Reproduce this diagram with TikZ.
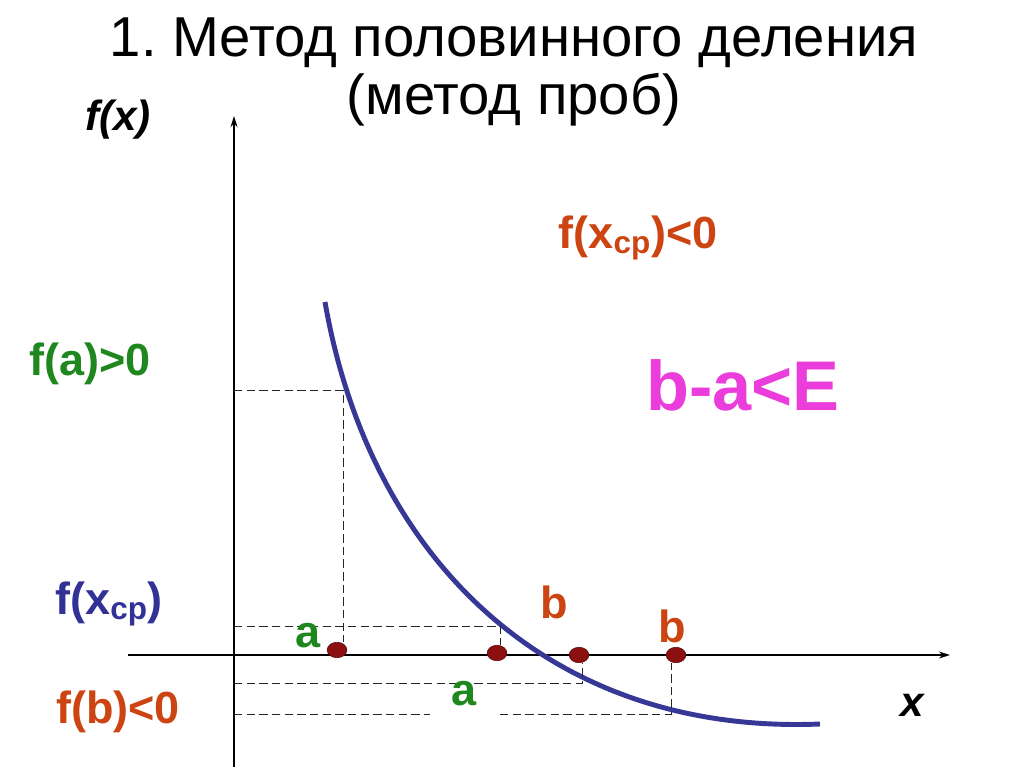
\documentclass[tikz,border=0pt]{standalone}
\usepackage{fontspec}
\setmainfont{Liberation Sans}
\usepackage{tikz}
\usetikzlibrary{arrows.meta}
\usetikzlibrary{shapes.geometric}

\definecolor{labgreen}{RGB}{30,135,30}
\definecolor{labred}{RGB}{204,68,17}
\definecolor{labblue}{RGB}{50,50,150}
\definecolor{curveblue}{RGB}{55,55,150}
\definecolor{labpink}{RGB}{235,60,220}
\definecolor{ptred}{RGB}{140,16,16}

\tikzset{
    lab/.style={font=\fontsize{32}{36}\selectfont\bfseries, inner sep=0pt},
    guide/.style={line width=0.7pt, black!85, dash pattern=on 6pt off 3pt},
    pt/.style={ellipse, draw=ptred!60!black, fill=ptred, minimum width=14pt, minimum height=11pt, inner sep=0pt}
}

\begin{document}
\frenchspacing
\begin{tikzpicture}[x=0.025cm, y=-0.025cm]
            \useasboundingbox (0,0) rectangle (1024,767);

            % title
            \node (title) at (514, 72) [align=center, font=\fontsize{40}{41}\selectfont]
                {1. Метод половинного деления\\(метод проб)};

            % axes
            \coordinate (o) at (234, 655);
            \coordinate (ytop) at (234, 116);
            \coordinate (ybot) at (234, 767);
            \coordinate (xl) at (128, 655);
            \coordinate (xr) at (950, 655);
            \draw[-{Stealth[length=8pt, width=5pt]}, thick] (ybot) -- (ytop);
            \draw[-{Stealth[length=8pt, width=5pt]}, thick] (xl) -- (xr);
            \node[lab, font=\fontsize{30}{34}\selectfont\bfseries\itshape] (fx) at (118, 120) {f(x)};
            \node[lab, font=\fontsize{30}{34}\selectfont\bfseries\itshape] (xx) at (912, 705) {x};

            % curve
            \draw[curveblue, line width=3.5pt] (325, 302) .. controls (370, 560) and (550, 735) .. (820, 724);

            % points on the curve
            \coordinate (ca) at (343, 390);
            \coordinate (cm) at (500, 626);
            \coordinate (cm2) at (582, 683);
            \coordinate (cb) at (671, 714);
            \coordinate (gap1) at (430, 714);
            \coordinate (gap2) at (500, 714);

            % points on the axis
            \node[pt] (a1) at (337, 650) {};
            \node[pt] (a2) at (497, 653) {};
            \node[pt] (b2) at (579, 655) {};
            \node[pt] (b1) at (676, 655) {};

            % dashed guides
            \draw[guide] (ca -| o) -- (ca) -- (ca |- a1.north);
            \draw[guide] (cm -| o) -- (cm) -- (cm |- a2.north);
            \draw[guide] (cm2 -| o) -- (cm2) -- (cm2 |- b2.south);
            \draw[guide] (cb -| o) -- (gap1);
            \draw[guide] (gap2) -- (cb) -- (cb |- b1.south);

            % labels
            \node[lab, labgreen] (la1) at (308, 636) {a};
            \node[lab, labgreen] (la2) at (464, 694) {a};
            \node[lab, labred] (lb2) at (554, 602) {b};
            \node[lab, labred] (lb1) at (672, 626) {b};

            \node[lab, labgreen] (fa) at (90, 364) {f(a)>0};
            \node[lab, labblue] (fxc) at (109, 604) {f(x\textsubscript{ср})};
            \node[lab, labred] (fb) at (118, 712) {f(b)<0};
            \node[lab, labred] (fxc0) at (638, 238) {f(x\textsubscript{ср})<0};
            \node[lab, labpink, font=\fontsize{50}{56}\selectfont\bfseries] (eps) at (743, 385) {b-a<E};
        \end{tikzpicture}
\end{document}
